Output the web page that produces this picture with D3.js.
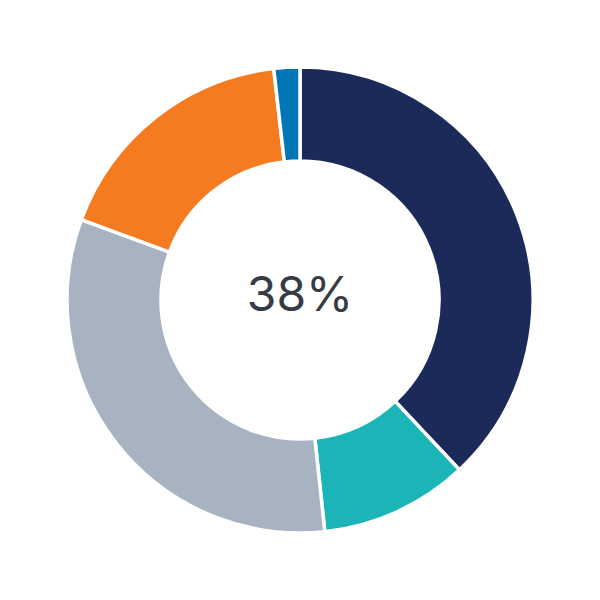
<!DOCTYPE html>
<html>
<head>
<meta charset="utf-8">
<script src="https://cdn.jsdelivr.net/npm/d3@7"></script>
<style>
html,body{margin:0;padding:0;background:#fff;}
svg{display:block;}
</style>
</head>
<body>
<svg id="chart" width="600" height="600"></svg>
<script>
const categories = ["A", "B", "C", "D", "E"];
const values = [38, 10.3, 32.3, 17.6, 1.8];
const colors = ["#1c2a5a", "#1bb4b7", "#a8b3c2", "#f47b20", "#0076b6"];
const centerLabel = "38%";

const svg = d3.select("#chart");
const g = svg.append("g").attr("transform", "translate(300,300)");

const data = categories.map((c, i) => ({cat: c, value: values[i], color: colors[i]}));
const pie = d3.pie().value(d => d.value).sort(null);
const arc = d3.arc().innerRadius(139).outerRadius(233);

g.selectAll("path")
  .data(pie(data))
  .join("path")
  .attr("d", arc)
  .attr("fill", d => d.data.color)
  .attr("stroke", "#fff")
  .attr("stroke-width", 3.5)
  .attr("stroke-linejoin", "miter");

g.append("text")
  .attr("x", 0)
  .attr("y", 11)
  .attr("text-anchor", "middle")
  .attr("font-family", "Inter, 'Liberation Sans', Arial, sans-serif")
  .attr("font-size", 48)
  .attr("fill", "#363b46")
  .text(centerLabel);
</script>
</body>
</html>
